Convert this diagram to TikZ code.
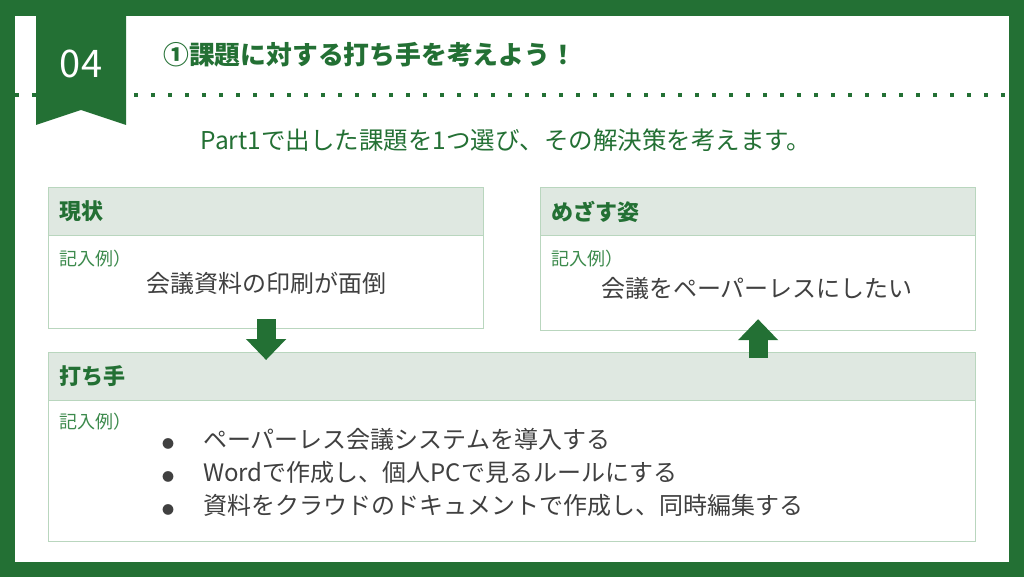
\documentclass[tikz,border=0pt]{standalone}
\usepackage{fontspec}
\setmainfont{Noto Sans CJK JP}
\usetikzlibrary{arrows.meta,positioning,calc}
\definecolor{frameGreen}{HTML}{237034}
\definecolor{noteGreen}{HTML}{3C8A4C}
\definecolor{boxLine}{HTML}{B9D6BE}
\definecolor{headFill}{HTML}{DFE8E1}
\definecolor{bodyGray}{HTML}{404040}

\begin{document}
\begin{tikzpicture}[x=1pt, y=-1pt,
        panel/.style={rectangle, draw=boxLine, line width=1.2pt, fill=white, anchor=north west, inner sep=0pt},
        head/.style={rectangle, draw=boxLine, line width=1.2pt, fill=headFill, anchor=north west, minimum height=48pt, inner xsep=11pt, inner ysep=0pt, align=left, text=frameGreen, font=\bfseries\fontsize{22}{25}\selectfont},
        note/.style={anchor=west, inner sep=0pt, text=noteGreen, font=\fontsize{18}{21}\selectfont},
        body/.style={inner sep=0pt, text=bodyGray, font=\fontsize{24}{27}\selectfont},
        item/.style={anchor=west, inner sep=0pt, text=bodyGray, font=\fontsize{24}{27}\selectfont},
        dotline/.style={draw=frameGreen, line width=3.5pt, dash pattern=on 3.5pt off 13.5pt},
        bigarrow/.style={draw=frameGreen, line width=19pt, -{Triangle[width=39pt,length=21pt]}}
    ]

    % Frame and white sheet
    \useasboundingbox (0,0) rectangle (1024,577);
    \fill[frameGreen] (0,0) rectangle (1024,577);
    \fill[white] (15,16) rectangle (1009,562);

    % Dotted rule under the title
    \draw[dotline] (15,95) -- (1009,95);

    % Ribbon with the number
    \fill[frameGreen] (36,16) -- (126,16) -- (126,125) -- (81,110) -- (36,125) -- cycle;
    \node[text=white, inner sep=0pt, font=\fontsize{38}{42}\selectfont] (num) at (81,64) {04};

    % Title and lead text
    \node[anchor=west, inner sep=0pt, text=frameGreen, font=\bfseries\fontsize{25.8}{30}\selectfont] (title) at (163,55) {①課題に対する打ち手を考えよう！};
    \node[inner sep=0pt, text=frameGreen, font=\fontsize{24.5}{28}\selectfont] (lead) at (506,140) {Part1で出した課題を1つ選び、その解決策を考えます。};

    % Current state
    \node[panel, minimum width=435pt, minimum height=141pt] (genjo) at (48,187) {};
    \node[head, text width=413pt] (genjoh) at (genjo.north west) {現状};
    \node[note] (genjon) at (59,259) {記入例）};
    \node[body] (genjot) at (266,283) {会議資料の印刷が面倒};

    % Goal
    \node[panel, minimum width=435pt, minimum height=143pt] (mezasu) at (540,187) {};
    \node[head, text width=413pt] (mezasuh) at (mezasu.north west) {めざす姿};
    \node[note] (mezasun) at (551,259) {記入例）};
    \node[body] (mezasut) at (757,288) {会議をペーパーレスにしたい};

    % Measures
    \node[panel, minimum width=927pt, minimum height=189pt] (uchite) at (48,352) {};
    \node[head, text width=905pt] (uchiteh) at (uchite.north west) {打ち手};
    \node[note] (uchiten) at (59,422) {記入例）};
    \node[item] (item1) at (162,439) {\makebox[41pt][l]{\fontsize{12}{12}\selectfont ●}ペーパーレス会議システムを導入する};
    \node[item] (item2) at (162,472) {\makebox[41pt][l]{\fontsize{12}{12}\selectfont ●}Wordで作成し、個人PCで見るルールにする};
    \node[item] (item3) at (162,505) {\makebox[41pt][l]{\fontsize{12}{12}\selectfont ●}資料をクラウドのドキュメントで作成し、同時編集する};

    % Block arrows between the boxes
    \path (genjo.south) ++(0,-10) coordinate (dnTail);
    \path (genjo.south |- uchite.north) ++(0,8) coordinate (dnTip);
    \path (mezasu.south |- uchite.north) ++(0,6) coordinate (upTail);
    \path (mezasu.south) ++(0,-12) coordinate (upTip);
    \draw[bigarrow] (dnTail) -- (dnTip);
    \draw[bigarrow] (upTail) -- (upTip);

\end{tikzpicture}
\end{document}
